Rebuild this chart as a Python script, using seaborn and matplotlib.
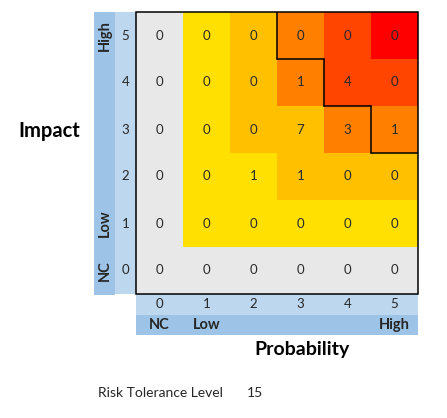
import numpy as np
import pandas as pd
import matplotlib
matplotlib.use("Agg")
import matplotlib.pyplot as plt
from matplotlib.colors import ListedColormap
from matplotlib.patches import Rectangle
import seaborn as sns

# ---- data ----
impact_levels = [5, 4, 3, 2, 1, 0]          # rows, top to bottom
probability_levels = [0, 1, 2, 3, 4, 5]     # columns, left to right
counts = [
    [0, 0, 0, 0, 0, 0],
    [0, 0, 0, 1, 4, 0],
    [0, 0, 0, 7, 3, 1],
    [0, 0, 1, 1, 0, 0],
    [0, 0, 0, 0, 0, 0],
    [0, 0, 0, 0, 0, 0],
]
impact_band_labels = {5: "High", 1: "Low", 0: "NC"}
prob_band_labels = {0: "NC", 1: "Low", 5: "High"}
risk_tolerance = 15
score_bins = [1, 6, 11, 16, 25]   # lower edges of colour classes (0 = not classified)
cell_colors = ["#E8E8E8", "#FFE000", "#FFC000", "#FF8000", "#FF4500", "#FF0000"]

# ---- derived tables ----
score = np.outer(impact_levels, probability_levels)
level = np.digitize(score, score_bins)
level_df = pd.DataFrame(level, index=impact_levels, columns=probability_levels)
count_df = pd.DataFrame(counts, index=impact_levels, columns=probability_levels)

sns.set_theme(style="white")
plt.rcParams["font.family"] = ["Lato", "DejaVu Sans"]

W, H = 447, 418
fig = plt.figure(figsize=(W / 100, H / 100), dpi=100)
ax = fig.add_axes([136 / W, 1 - 294 / H, 282 / W, 282 / H])

cmap = ListedColormap(cell_colors)
sns.heatmap(level_df, ax=ax, cmap=cmap, vmin=-0.5, vmax=len(cell_colors) - 0.5,
            annot=count_df, fmt="d", cbar=False, linewidths=0,
            annot_kws={"color": "#2a2a2a", "fontsize": 9.5})
ax.set_xticks([])
ax.set_yticks([])
ax.set_xlabel("")
ax.set_ylabel("")
for s in ax.spines.values():
    s.set_visible(False)

n = len(probability_levels)
m = len(impact_levels)
px = n / 282.0  # data units per pixel

light = "#BDD7EE"
dark = "#9DC3E6"
txt = "#262626"

# left bands
ax.add_patch(Rectangle((-21 * px, 0), 21 * px, m, facecolor=light, edgecolor="none", clip_on=False))
ax.add_patch(Rectangle((-42 * px, 0), 21 * px, m + 1 * px, facecolor=dark, edgecolor="none", clip_on=False))
# bottom bands
ax.add_patch(Rectangle((0, m), n, 21 * px, facecolor=light, edgecolor="none", clip_on=False))
ax.add_patch(Rectangle((0, m + 21 * px), n, 20 * px, facecolor=dark, edgecolor="none", clip_on=False))

for i, imp in enumerate(impact_levels):
    ax.text(-10.5 * px, i + 0.5, str(imp), ha="center", va="center", fontsize=9.5, color=txt, clip_on=False)
    if imp in impact_band_labels:
        ax.text(-31.5 * px, i + 0.5, impact_band_labels[imp], ha="center", va="center",
                rotation=90, fontsize=10.5, fontweight="bold", color=txt, clip_on=False)
for j, p in enumerate(probability_levels):
    ax.text(j + 0.5, m + 10.5 * px, str(p), ha="center", va="center", fontsize=9.5, color=txt, clip_on=False)
    if p in prob_band_labels:
        ax.text(j + 0.5, m + 31 * px, prob_band_labels[p], ha="center", va="center",
                fontsize=10.5, fontweight="bold", color=txt, clip_on=False)

# outer border
ax.add_patch(Rectangle((0, 0), n, m, facecolor="none", edgecolor="black", lw=1.1, clip_on=False, zorder=5))

# tolerance boundary
mask = score >= risk_tolerance
for i in range(m):
    for j in range(n):
        if not mask[i, j]:
            continue
        if i + 1 < m and not mask[i + 1, j]:
            ax.plot([j, j + 1], [i + 1, i + 1], color="black", lw=1.1, zorder=5)
        if j - 1 >= 0 and not mask[i, j - 1]:
            ax.plot([j, j], [i, i + 1], color="black", lw=1.1, zorder=5)

ax.set_xlim(0, n)
ax.set_ylim(m, 0)

fig.text(49 / W, 1 - 131 / H, "Impact", ha="center", va="center", fontsize=14.5, fontweight="bold", color="black")
fig.text(302 / W, 1 - 350 / H, "Probability", ha="center", va="center", fontsize=14, fontweight="bold", color="black")
fig.text(98 / W, 1 - 393 / H, "Risk Tolerance Level", ha="left", va="center", fontsize=10, color=txt)
fig.text(247 / W, 1 - 393 / H, str(risk_tolerance), ha="left", va="center", fontsize=10, color=txt)

fig.savefig("out.png", dpi=100, facecolor="white")
